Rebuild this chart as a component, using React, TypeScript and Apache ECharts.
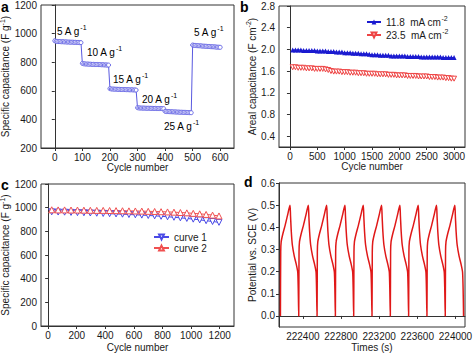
import React, { useEffect, useRef } from "react";
import * as echarts from "echarts";

const FONT = "'Liberation Sans', Arial, Helvetica, sans-serif";
const TEXT = "#1a1a1a";
const AXIS = "#333333";

// ---------- panel a : rate capability ----------
const rateCycles = Array.from({ length: 121 }, (_, i) => i * 5);
const rateCapacitance = [
  950, 946, 945, 944, 944, 943, 943, 942, 942, 941, 941, 940, 940, 940, 939, 939, 938, 938, 937, 937,
  792, 789, 788, 787, 787, 786, 786, 785, 785, 784, 784, 784, 783, 783, 782, 782, 781, 781, 780, 780,
  615, 613, 612, 612, 611, 611, 610, 610, 609, 609, 609, 608, 608, 608, 607, 607, 607, 606, 606, 605,
  482, 480, 480, 479, 479, 479, 478, 478, 478, 478, 477, 477, 477, 477, 476, 476, 476, 476, 475, 475,
  457, 455, 455, 454, 454, 453, 453, 452, 452, 451, 451, 450, 450, 450, 449, 449, 448, 448, 447, 447,
  920, 918, 917, 916, 915, 915, 914, 913, 912, 912, 911, 910, 910, 909, 908, 908, 907, 906, 905, 905, 904,
];
const rateLabels = ["5 A g", "10 A g", "15 A g", "20 A g", "25 A g", "5 A g"];
const rateXTicks = [0, 100, 200, 300, 400, 500, 600];

// ---------- panel b : areal capacitance ----------
const arealCycles = Array.from({ length: 60 }, (_, i) => (i + 1) * 50);
const areal118 = [
  1.99, 1.99, 1.99, 1.99, 1.98, 1.98, 1.98, 1.98, 1.98, 1.97,
  1.97, 1.97, 1.97, 1.96, 1.96, 1.96, 1.95, 1.95, 1.95, 1.94,
  1.94, 1.94, 1.93, 1.93, 1.93, 1.92, 1.92, 1.92, 1.91, 1.9,
  1.9, 1.9, 1.89, 1.89, 1.89, 1.89, 1.88, 1.88, 1.88, 1.88,
  1.88, 1.88, 1.87, 1.87, 1.87, 1.87, 1.87, 1.86, 1.86, 1.86,
  1.86, 1.86, 1.86, 1.86, 1.86, 1.85, 1.85, 1.85, 1.85, 1.85,
];
const areal235 = [
  1.67, 1.67, 1.66, 1.66, 1.66, 1.65, 1.65, 1.65, 1.64, 1.64,
  1.64, 1.64, 1.63, 1.62, 1.6, 1.59, 1.59, 1.59, 1.58, 1.58,
  1.58, 1.57, 1.57, 1.57, 1.56, 1.56, 1.56, 1.55, 1.55, 1.55,
  1.55, 1.54, 1.54, 1.54, 1.54, 1.53, 1.53, 1.53, 1.52, 1.52,
  1.52, 1.52, 1.51, 1.51, 1.51, 1.51, 1.5, 1.5, 1.5, 1.5,
  1.49, 1.49, 1.49, 1.48, 1.48, 1.48, 1.47, 1.47, 1.46, 1.46,
];
const arealXTicks = [0, 500, 1000, 1500, 2000, 2500, 3000];
const arealYTicks = [0.4, 0.8, 1.2, 1.6, 2.0, 2.4, 2.8];

// ---------- panel c : cycling ----------
const cycCycles = Array.from({ length: 27 }, (_, i) => 25 + i * 45);
const curve1 = [
  965, 963, 962, 960, 958, 957, 955, 953, 951, 949, 947, 945, 942, 940,
  937, 934, 931, 927, 923, 919, 914, 909, 903, 897, 890, 883, 876,
];
const curve2 = [
  982, 981, 981, 980, 980, 979, 978, 977, 977, 976, 975, 974, 973, 972,
  971, 969, 968, 966, 964, 962, 959, 956, 952, 948, 943, 937, 930,
];
const cycXTicks = [0, 200, 400, 600, 800, 1000, 1200];

// ---------- panel d : GCD potential ----------
const gcdPoints: [number, number][] = [
  [222165, 0], [222168, 0.29], [222173, 0.335], [222190, 0.37], [222215, 0.41], [222240, 0.455], [222265, 0.5],
  [222271, 0.45], [222279, 0.38], [222290, 0.32], [222310, 0.27], [222330, 0.235], [222347, 0.195],
  [222357, 0], [222360, 0.29], [222365, 0.335], [222382, 0.37], [222407, 0.41], [222432, 0.455], [222457, 0.5],
  [222463, 0.45], [222471, 0.38], [222482, 0.32], [222502, 0.27], [222522, 0.235], [222539, 0.195],
  [222549, 0], [222552, 0.29], [222557, 0.335], [222574, 0.37], [222599, 0.41], [222624, 0.455], [222649, 0.5],
  [222655, 0.45], [222663, 0.38], [222674, 0.32], [222694, 0.27], [222714, 0.235], [222731, 0.195],
  [222741, 0], [222744, 0.29], [222749, 0.335], [222766, 0.37], [222791, 0.41], [222816, 0.455], [222841, 0.5],
  [222847, 0.45], [222855, 0.38], [222866, 0.32], [222886, 0.27], [222906, 0.235], [222923, 0.195],
  [222933, 0], [222936, 0.29], [222941, 0.335], [222958, 0.37], [222983, 0.41], [223008, 0.455], [223033, 0.5],
  [223039, 0.45], [223047, 0.38], [223058, 0.32], [223078, 0.27], [223098, 0.235], [223115, 0.195],
  [223125, 0], [223128, 0.29], [223133, 0.335], [223150, 0.37], [223175, 0.41], [223200, 0.455], [223225, 0.5],
  [223231, 0.45], [223239, 0.38], [223250, 0.32], [223270, 0.27], [223290, 0.235], [223307, 0.195],
  [223317, 0], [223320, 0.29], [223325, 0.335], [223342, 0.37], [223367, 0.41], [223392, 0.455], [223417, 0.5],
  [223423, 0.45], [223431, 0.38], [223442, 0.32], [223462, 0.27], [223482, 0.235], [223499, 0.195],
  [223509, 0], [223512, 0.29], [223517, 0.335], [223534, 0.37], [223559, 0.41], [223584, 0.455], [223609, 0.5],
  [223615, 0.45], [223623, 0.38], [223634, 0.32], [223654, 0.27], [223674, 0.235], [223691, 0.195],
  [223701, 0], [223704, 0.29], [223709, 0.335], [223726, 0.37], [223751, 0.41], [223776, 0.455], [223801, 0.5],
  [223807, 0.45], [223815, 0.38], [223826, 0.32], [223846, 0.27], [223866, 0.235], [223883, 0.195],
  [223893, 0], [223896, 0.29], [223901, 0.335], [223918, 0.37], [223943, 0.41], [223968, 0.455], [223993, 0.5],
  [223999, 0.45], [224007, 0.38], [224018, 0.32], [224038, 0.27], [224058, 0.235], [224075, 0.195],
  [224085, 0],
];
const gcdXTicks = [222400, 222800, 223200, 223600, 224000];
const gcdYTicks = [0, 0.1, 0.2, 0.3, 0.4, 0.5, 0.6];

const rich = {
  n: { fontSize: 10, fontFamily: FONT, color: TEXT, lineHeight: 14 },
  s: { fontSize: 7, fontFamily: FONT, color: TEXT, lineHeight: 8, verticalAlign: "top" as const },
};

function xAxisOf(gridIndex: number, min: number, max: number, ticks: number[] | null, name: string, nameGap: number, interval?: number) {
  const ax: any = {
    type: "value",
    gridIndex,
    min,
    max,
    name,
    nameLocation: "middle",
    nameGap,
    nameTextStyle: { fontSize: 10, fontFamily: FONT, color: TEXT },
    axisLine: { show: true, lineStyle: { color: AXIS, width: 1 } },
    axisTick: { show: true, length: 3, inside: false, lineStyle: { color: AXIS } },
    axisLabel: { show: true, margin: 4, fontSize: 10, fontFamily: FONT, color: TEXT, formatter: (v: number) => String(v) },
    splitLine: { show: false },
  };
  if (ticks) {
    ax.axisTick.customValues = ticks;
    ax.axisLabel.customValues = ticks;
  }
  if (interval) ax.interval = interval;
  return ax;
}

function yAxisOf(gridIndex: number, min: number, max: number, ticks: number[] | null, name: string, nameGap: number, digits: number, interval?: number) {
  const ax: any = {
    type: "value",
    gridIndex,
    min,
    max,
    name,
    nameLocation: "middle",
    nameGap,
    nameRotate: 90,
    nameTextStyle: { fontSize: 10, fontFamily: FONT, color: TEXT, rich },
    axisLine: { show: true, lineStyle: { color: AXIS, width: 1 } },
    axisTick: { show: true, length: 3, inside: false, lineStyle: { color: AXIS } },
    axisLabel: { show: true, margin: 4, fontSize: 10, fontFamily: FONT, color: TEXT, formatter: (v: number) => v.toFixed(digits) },
    splitLine: { show: false },
  };
  if (ticks) {
    ax.axisTick.customValues = ticks;
    ax.axisLabel.customValues = ticks;
  }
  if (interval) ax.interval = interval;
  return ax;
}

function hollow(color: string) {
  return { color: "#ffffff", borderColor: color, borderWidth: 1 };
}

export default function App() {
  const ref = useRef<HTMLDivElement>(null);
  useEffect(() => {
    if (!ref.current) return;
    const chart = echarts.init(ref.current, null, { renderer: "svg" });
    const gridBase = { show: true, borderColor: AXIS, borderWidth: 1, backgroundColor: "transparent", containLabel: false, outerBoundsMode: "none" };
    const option: any = {
      animation: false,
      backgroundColor: "#ffffff",
      textStyle: { fontFamily: FONT },
      grid: [
        { ...gridBase, left: 41, top: 5, width: 193, height: 143 },
        { ...gridBase, left: 279, top: 6, width: 186, height: 141 },
        { ...gridBase, left: 41, top: 184, width: 193, height: 142 },
        { ...gridBase, left: 279, top: 183, width: 186, height: 144 },
      ],
      xAxis: [
        xAxisOf(0, -50, 650, rateXTicks, "Cycle number", 13),
        xAxisOf(1, -200, 3200, arealXTicks, "Cycle number", 13),
        xAxisOf(2, -50, 1300, cycXTicks, "Cycle number", 16),
        xAxisOf(3, 222150, 224100, gcdXTicks, "Times (s)", 15),
      ],
      yAxis: [
        yAxisOf(0, 200, 1200, null, "{n|Specific capacitance (F g}{s|-1}{n|)}", 24, 0, 200),
        yAxisOf(1, 0.2, 2.8, arealYTicks, "{n|Areal capacitance (F cm}{s|-2}{n|)}", 17, 1),
        yAxisOf(2, 0, 1200, null, "{n|Specific capacitance (F g}{s|-1}{n|)}", 23, 0, 200),
        yAxisOf(3, -0.05, 0.6, gcdYTicks, "Potential vs. SCE (V)", 20, 1),
      ],
      legend: [
        {
          data: ["11.8  mA cm-2"], left: 366, top: 15, padding: 0, itemWidth: 14, itemHeight: 6, itemGap: 0,
          formatter: () => "{n|11.8  mA cm}{s|-2}", textStyle: { rich },
        },
        {
          data: ["23.5  mA cm-2"], left: 366, top: 28, padding: 0, itemWidth: 14, itemHeight: 6, itemGap: 0,
          formatter: () => "{n|23.5  mA cm}{s|-2}", textStyle: { rich },
        },
        {
          data: ["curve 1"], left: 153, top: 232, padding: 0, itemWidth: 15, itemHeight: 6,
          textStyle: { fontSize: 10, fontFamily: FONT, color: TEXT },
        },
        {
          data: ["curve 2"], left: 153, top: 243, padding: 0, itemWidth: 15, itemHeight: 6,
          textStyle: { fontSize: 10, fontFamily: FONT, color: TEXT },
        },
      ],
      series: [
        {
          name: "rate", type: "line", xAxisIndex: 0, yAxisIndex: 0,
          data: rateCycles.map((c, i) => [c, rateCapacitance[i]]),
          symbol: "circle", symbolSize: 4,
          lineStyle: { color: "#5a5ae0", width: 1 }, itemStyle: hollow("#6a6ae6"),
        },
        {
          name: "11.8  mA cm-2", type: "line", xAxisIndex: 1, yAxisIndex: 1,
          data: arealCycles.map((c, i) => [c, areal118[i]]),
          symbol: "triangle", symbolSize: 5,
          lineStyle: { color: "#1a1ad0", width: 1 }, itemStyle: { color: "#1a1ad0" },
        },
        {
          name: "23.5  mA cm-2", type: "line", xAxisIndex: 1, yAxisIndex: 1,
          data: arealCycles.map((c, i) => [c, areal235[i]]),
          symbol: "triangle", symbolSize: 5, symbolRotate: 180,
          lineStyle: { color: "#ee4444", width: 1 }, itemStyle: hollow("#ee4444"),
        },
        {
          name: "curve 1", type: "line", xAxisIndex: 2, yAxisIndex: 2,
          data: cycCycles.map((c, i) => [c, curve1[i]]),
          symbol: "triangle", symbolSize: 6, symbolRotate: 180,
          lineStyle: { color: "#4a4ae6", width: 1 }, itemStyle: hollow("#4a4ae6"),
        },
        {
          name: "curve 2", type: "line", xAxisIndex: 2, yAxisIndex: 2,
          data: cycCycles.map((c, i) => [c, curve2[i]]),
          symbol: "triangle", symbolSize: 6,
          lineStyle: { color: "#f05050", width: 1 }, itemStyle: hollow("#f05050"),
        },
        {
          name: "gcd", type: "line", xAxisIndex: 3, yAxisIndex: 3,
          data: gcdPoints, showSymbol: false, symbol: "none", smooth: 0.25,
          lineStyle: { color: "#e01818", width: 1.5 },
        },
      ],
      graphic: [
        { type: "text", left: 1, top: 0, style: { text: "a", font: `bold 14px ${FONT}`, fill: "#000" } },
        { type: "text", left: 240, top: 0, style: { text: "b", font: `bold 14px ${FONT}`, fill: "#000" } },
        { type: "text", left: 1, top: 178, style: { text: "c", font: `bold 14px ${FONT}`, fill: "#000" } },
        { type: "text", left: 244, top: 175, style: { text: "d", font: `bold 14px ${FONT}`, fill: "#000" } },
        { type: "text", left: 57, top: 24, style: { text: `{n|${rateLabels[0]}}{s|-1}`, rich } },
        { type: "text", left: 87, top: 45, style: { text: `{n|${rateLabels[1]}}{s|-1}`, rich } },
        { type: "text", left: 113, top: 72, style: { text: `{n|${rateLabels[2]}}{s|-1}`, rich } },
        { type: "text", left: 142, top: 92, style: { text: `{n|${rateLabels[3]}}{s|-1}`, rich } },
        { type: "text", left: 164, top: 119, style: { text: `{n|${rateLabels[4]}}{s|-1}`, rich } },
        { type: "text", left: 194, top: 25, style: { text: `{n|${rateLabels[5]}}{s|-1}`, rich } },
      ],
    };
    chart.setOption(option);
    return () => chart.dispose();
  }, []);
  return (
    <div
      ref={ref}
      style={{ position: "absolute", left: 0, top: 0, width: 474, height: 353, background: "#fff" }}
    />
  );
}
